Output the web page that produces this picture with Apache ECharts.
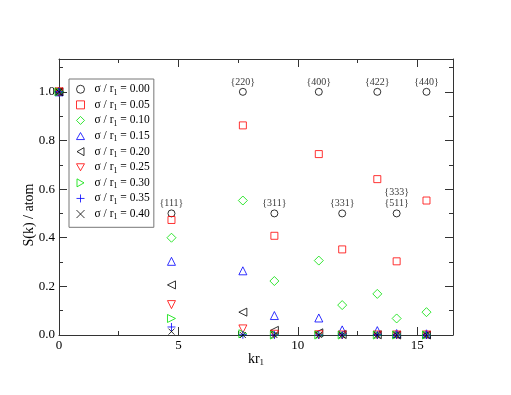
<!DOCTYPE html>
<html><head><meta charset="utf-8">
<script src="https://cdn.jsdelivr.net/npm/echarts@6/dist/echarts.min.js"></script>
<style>html,body{margin:0;padding:0;background:#fff}#c{width:511px;height:395px}</style>
</head><body><div id="c"></div>
<script>
// kr1 positions of the reflections (k = 0 first)
const kr = [0, 4.71, 7.70, 9.02, 10.88, 11.86, 13.33, 14.14, 15.39];
const hkl = ['', '{111}', '{220}', '{311}', '{400}', '{331}', '{422}', '{333}\n{511}', '{440}'];
const sigmaNames = ['σ / r1 = 0.00','σ / r1 = 0.05','σ / r1 = 0.10','σ / r1 = 0.15','σ / r1 = 0.20','σ / r1 = 0.25','σ / r1 = 0.30','σ / r1 = 0.35','σ / r1 = 0.40'];
const s000 = [1, 0.500, 1.000, 0.500, 1.000, 0.500, 1.000, 0.500, 1.000];
const s005 = [1, 0.473, 0.862, 0.408, 0.744, 0.352, 0.641, 0.303, 0.553];
const s010 = [1, 0.400, 0.553, 0.222, 0.306, 0.123, 0.169, 0.068, 0.094];
const s015 = [1, 0.303, 0.264, 0.080, 0.070, 0.021, 0.018, 0.006, 0.005];
const s020 = [1, 0.206, 0.094, 0.019, 0.009, 0.002, 0.001, 0.000, 0.000];
const s025 = [1, 0.125, 0.025, 0.003, 0.001, 0.000, 0.000, 0.000, 0.000];
const s030 = [1, 0.068, 0.005, 0.000, 0.000, 0.000, 0.000, 0.000, 0.000];
const s035 = [1, 0.033, 0.001, 0.000, 0.000, 0.000, 0.000, 0.000, 0.000];
const s040 = [1, 0.014, 0.000, 0.000, 0.000, 0.000, 0.000, 0.000, 0.000];
const xTickLabels = ['0','5','10','15'];
const yTickLabels = ['0.0','0.2','0.4','0.6','0.8','1.0'];

const values = [s000,s005,s010,s015,s020,s025,s030,s035,s040];
const colors = ['#000000','#ff0000','#00e000','#0000ff','#000000','#ff0000','#00e000','#0000ff','#000000'];
const symbols = ['circle','rect','diamond',
  'path://M4,0L8,7L0,7Z',   // up triangle
  'path://M0,4L7,0L7,8Z',   // left triangle
  'path://M0,0L8,0L4,7Z',   // down triangle
  'path://M7,4L0,0L0,8Z',   // right triangle
  'path://M0,4L8,4M4,0L4,8',
  'path://M0,0L8,8M8,0L0,8'];
const sizes = [7,7,9,8,8,8,8,8,6];

const FONT = 'Liberation Serif';
const X0 = 0, X1 = 16.5, Y0 = 0, Y1 = 1.135;

const series = values.map((v, si) => ({
  name: sigmaNames[si],
  type: 'scatter',
  xAxisIndex: 0, yAxisIndex: 0,
  symbol: symbols[si],
  symbolSize: sizes[si],
  itemStyle: {color: 'none', borderColor: colors[si], borderWidth: 1},
  emphasis: {disabled: true},
  z: 2 + si,
  data: v.map((y, i) => {
    const d = {value: [kr[i], y]};
    if (si === 0 && hkl[i]) {
      d.label = {show: true, position: 'top', distance: -2, color: '#000',
        fontFamily: FONT, fontSize: 10, lineHeight: 11.5, formatter: () => hkl[i]};
    }
    return d;
  })
}));

const axisLineStyle = {show: true, onZero: false, lineStyle: {color: '#333', width: 1}};
const noLine = {show: false, onZero: false};

function xAxis(grid, pos, interval, len, labels, line) {
  return {type: 'value', gridIndex: grid, position: pos, min: X0, max: X1, interval: interval,
    axisLine: line ? axisLineStyle : noLine,
    axisTick: {show: true, inside: true, length: len, lineStyle: {color: '#333'}},
    axisLabel: labels ? {show: true, margin: 4, color: '#000', fontFamily: FONT, fontSize: 13,
      showMaxLabel: false, formatter: v => (Math.abs(v % 5) < 1e-9 ? xTickLabels[Math.round(v/5)] : '')} : {show: false},
    splitLine: {show: false}, minorTick: {show: false}};
}
function yAxis(grid, pos, interval, len, labels, line) {
  return {type: 'value', gridIndex: grid, position: pos, min: Y0, max: Y1, interval: interval,
    axisLine: line ? axisLineStyle : noLine,
    axisTick: {show: true, inside: true, length: len, lineStyle: {color: '#333'}},
    axisLabel: labels ? {show: true, margin: 4, color: '#000', fontFamily: FONT, fontSize: 13,
      showMaxLabel: false, formatter: v => {const k = Math.round(v/0.2); return Math.abs(v - k*0.2) < 1e-6 ? yTickLabels[k] : '';}} : {show: false},
    splitLine: {show: false}, minorTick: {show: false}};
}

// grid 0: major ticks + frame; grid 1 (same rectangle): minor ticks
const xa = [xAxis(0, 'bottom', 5, 8, true, true), xAxis(0, 'top', 5, 8, false, true),
            xAxis(1, 'bottom', 2.5, 4, false, false), xAxis(1, 'top', 2.5, 4, false, false)];
xa[0].name = 'kr{sub|1}';
xa[0].nameLocation = 'middle';
xa[0].nameGap = 16;
xa[0].nameMoveOverlap = false;
xa[0].nameTextStyle = {fontFamily: FONT, fontSize: 14, color: '#000', lineHeight: 16,
  rich: {sub: {fontSize: 9, verticalAlign: 'bottom', lineHeight: 9, fontFamily: FONT, color: '#000'}}};
const ya = [yAxis(0, 'left', 0.2, 8, true, true), yAxis(0, 'right', 0.2, 8, false, true),
            yAxis(1, 'left', 0.1, 4, false, false), yAxis(1, 'right', 0.1, 4, false, false)];
ya[0].name = 'S(k) / atom';
ya[0].nameLocation = 'middle';
ya[0].nameGap = 23;
ya[0].nameMoveOverlap = false;
ya[0].nameTextStyle = {fontFamily: FONT, fontSize: 14, color: '#000', padding: [0, 36, 0, 0]};

const gridRect = {left: 59, right: 58, top: 59, bottom: 60, containLabel: false};

const chart = echarts.init(document.getElementById('c'), null, {renderer: 'canvas'});
chart.setOption({
  animation: false,
  backgroundColor: '#fff',
  grid: [Object.assign({}, gridRect), Object.assign({}, gridRect)],
  xAxis: xa,
  yAxis: ya,
  legend: {
    orient: 'vertical', left: 69, top: 79,
    padding: [3, 4, 6, 5],
    borderColor: '#777', borderWidth: 1,
    itemWidth: 8, itemHeight: 8, itemGap: 1.1,
    selectedMode: false,
    data: sigmaNames.map((n, i) => ({name: n, icon: symbols[i],
      itemStyle: {color: 'none', borderColor: colors[i], borderWidth: 1}})),
    formatter: n => n.replace('r1', 'r{sub|1}'),
    textStyle: {fontFamily: FONT, fontSize: 11.5, color: '#000', lineHeight: 14.5, padding: [0, 0, 0, 5],
      rich: {sub: {fontSize: 8, verticalAlign: 'bottom', lineHeight: 8, fontFamily: FONT, color: '#000'}}}
  },
  series: series
});
</script></body></html>
